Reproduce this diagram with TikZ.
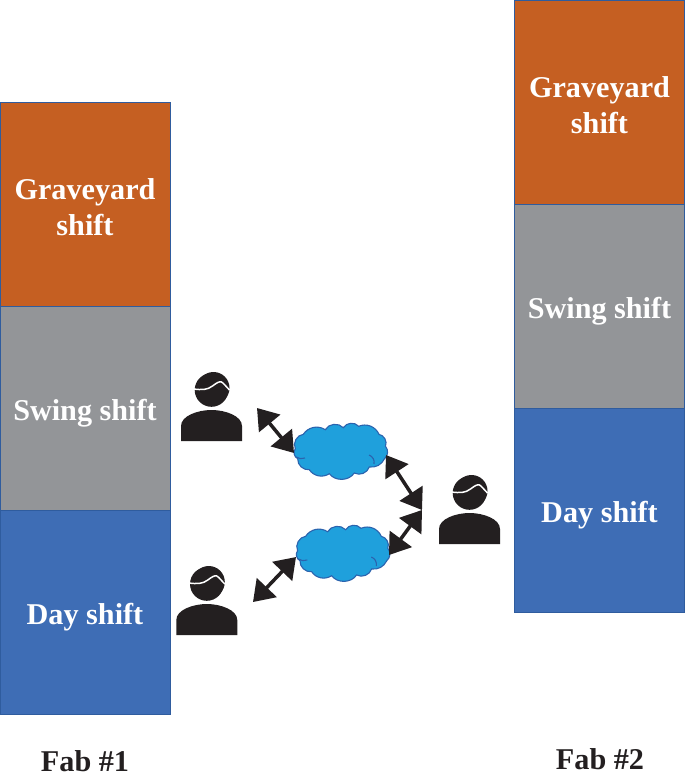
\documentclass[tikz,border=0pt]{standalone}
\usepackage{fontspec}
\setmainfont{Liberation Serif}
\usetikzlibrary{arrows.meta}
\definecolor{shiftorange}{HTML}{C55F22}
\definecolor{shiftgray}{HTML}{939598}
\definecolor{shiftblue}{HTML}{3E6DB5}
\definecolor{shiftedge}{HTML}{2F5C9E}
\definecolor{cloudblue}{HTML}{1FA0DC}
\definecolor{cloudedge}{HTML}{2B63AE}
\definecolor{inkblack}{HTML}{231F20}
\tikzset{
	shiftbox/.style={draw=shiftedge, line width=0.9pt, minimum width=170pt, minimum height=204pt, inner sep=0pt, align=center, text=white, font=\bfseries\fontsize{30.2}{36}\selectfont},
	oneline/.style={text height=32pt},
	twolines/.style={text height=63pt},
	fablabel/.style={font=\bfseries\fontsize{30.2}{36}\selectfont, text=inkblack},
	talk/.style={{Triangle[length=20pt,width=27pt]}-{Triangle[length=20pt,width=27pt]}, line width=3.5pt, draw=inkblack},
	pics/worker/.style={code={
		\fill [inkblack] (0,0) circle (16.8);
		\fill [inkblack] (2,-2) circle (16);
		\draw [white, line width=1.5pt] (-18,-1) .. controls (-10,0) and (-4,0) .. (1,-4) .. controls (5,-7) and (8,-9) .. (10,-8) .. controls (12,-7) and (15,-3) .. (18,0);
		\fill [inkblack] (-30.5,51) -- (-30.5,36) .. controls (-30.5,26) and (-14,20) .. (0,20) .. controls (14,20) and (30.5,26) .. (30.5,36) -- (30.5,51) -- cycle;
	}},
	pics/chatcloud/.style={code={
		\draw [fill=cloudblue, draw=cloudedge, line width=1.1pt] (-45.7,-4.3) to[bend left=55] (-37.7,-18.7) to[bend left=45] (-15.7,-23.3) to[bend left=55] (2.3,-25.3) to[bend left=55] (17.7,-26.7) to[bend left=45] (38,-18.7) to[bend left=50] (44.5,-6.7) to[bend left=45] (43.5,5.7) to[bend left=35] (28.3,14) to[bend left=50] (13.3,20) to[bend left=55] (-11.7,20.7) to[bend left=45] (-31.7,16.7) to[bend left=50] (-43.3,5.7) to[bend left=50] cycle;
		\draw [draw=cloudedge, line width=1.1pt] (28,2) to[bend left=40] (33,11);
		\draw [draw=cloudedge, line width=1.1pt] (-45,4) to[bend right=25] (-36,5);
	}}
}
\begin{document}
\begin{tikzpicture}[x=1pt,y=-1pt]
	\useasboundingbox (0,0) rectangle (685,779);
	% fab 1
	\node [shiftbox, twolines, fill=shiftorange] (graveA) at (85,204) {Graveyard\\shift};
	\node [shiftbox, oneline, fill=shiftgray] (swingA) at (85,408) {Swing shift};
	\node [shiftbox, oneline, fill=shiftblue] (dayA) at (85,612) {Day shift};
	\node [fablabel] (fabA) at (85,761) {Fab \#1};
	% fab 2
	\node [shiftbox, twolines, fill=shiftorange] (graveB) at (599.5,102) {Graveyard\\shift};
	\node [shiftbox, oneline, fill=shiftgray] (swingB) at (599.5,306) {Swing shift};
	\node [shiftbox, oneline, fill=shiftblue] (dayB) at (599.5,510) {Day shift};
	\node [fablabel] (fabB) at (600,759) {Fab \#2};
	\pic at (211.5,390) {worker};
	\pic at (206.8,584) {worker};
	\pic at (469.5,493) {worker};
	\pic at (341,453) {chatcloud};
	\pic at (343.3,555) {chatcloud};
	\coordinate (workerA) at (257,408);
	\coordinate (workerB) at (253,602);
	\coordinate (workerC) at (422,510);
	\coordinate (cloudAw) at (294,453);
	\coordinate (cloudAe) at (386,455);
	\coordinate (cloudBw) at (296,557);
	\coordinate (cloudBe) at (389,555);
	\draw [talk] (workerA) -- (cloudAw);
	\draw [talk] (cloudAe) -- (workerC);
	\draw [talk] (workerC) -- (cloudBe);
	\draw [talk] (workerB) -- (cloudBw);
\end{tikzpicture}
\end{document}
